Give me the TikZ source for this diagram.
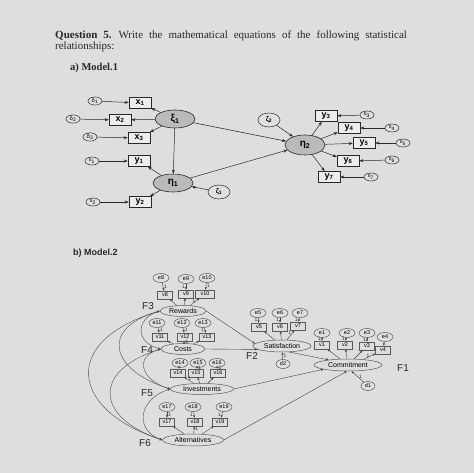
\documentclass[tikz,border=0pt]{standalone}
\usepackage{fontspec}
\setmainfont{Liberation Serif}
\setsansfont{Liberation Sans}
\usetikzlibrary{shapes.geometric, arrows.meta, positioning}

\definecolor{paper}{RGB}{222,222,222}
\definecolor{ink}{RGB}{40,40,40}

\tikzset{
  latA/.style = {ellipse, draw=ink, fill=black!27, line width=0.6pt, minimum width=40pt, minimum height=18pt, inner sep=0pt, font=\sffamily\bfseries},
  obsA/.style = {rectangle, draw=ink, fill=black!7, line width=0.6pt, minimum width=22pt, minimum height=11pt, inner sep=0pt, font=\sffamily\bfseries\small},
  errA/.style = {ellipse, draw=ink, fill=black!12, line width=0.5pt, minimum width=14pt, minimum height=8pt, inner sep=0pt, font=\sffamily\fontsize{6}{6}\selectfont},
  distA/.style = {errA, minimum width=22pt, minimum height=14pt, font=\sffamily\bfseries\scriptsize},
  arrA/.style = {-{Stealth[length=4pt,width=3pt]}, ink, line width=0.5pt},
  latB/.style = {ellipse, draw=black!65, line width=0.5pt, minimum height=11pt, inner sep=0pt, font=\sffamily\fontsize{7}{7}\selectfont},
  obsB/.style = {rectangle, draw=black!65, line width=0.5pt, minimum width=15pt, minimum height=8pt, inner sep=0.5pt, font=\sffamily\fontsize{5.5}{5.5}\selectfont},
  errB/.style = {ellipse, draw=black!65, line width=0.5pt, minimum width=16pt, minimum height=9pt, inner sep=0pt, font=\sffamily\fontsize{5.5}{5.5}\selectfont},
  arrB/.style = {-{Stealth[length=2.8pt,width=2.2pt]}, black!75, line width=0.4pt},
  covB/.style = {{Stealth[length=2.8pt,width=2.2pt]}-{Stealth[length=2.8pt,width=2.2pt]}, black!70, line width=0.4pt},
  one/.style = {font=\sffamily\fontsize{5}{5}\selectfont, inner sep=1pt, text=black!80},
  flab/.style = {font=\sffamily\fontsize{10}{10}\selectfont, text=ink}
}

\begin{document}
\begin{tikzpicture}[x=1pt, y=-1pt]

  \fill [paper] (0,0) rectangle (474,473);
  \useasboundingbox (0,0) rectangle (474,473);

  % heading
  \node (title) [anchor=base west, inner sep=0pt, text=ink, font=\fontsize{11}{13}\selectfont] at (55,39) {\spaceskip=6pt\textbf{Question 5.} Write the mathematical equations of the following statistical};
  \node (title2) [anchor=base west, inner sep=0pt, text=ink, font=\fontsize{11}{13}\selectfont] at (55,50) {relationships:};
  \node (moda) [anchor=base west, inner sep=0pt, text=ink, font=\bfseries\fontsize{10.5}{12}\selectfont] at (70,71) {a) Model.1};

  % Model.1
  \node (xi1) [latA] at (175,119) {ξ\textsubscript{1}};
  \node (eta1) [latA] at (173,183) {η\textsubscript{1}};
  \node (eta2) [latA, minimum height=20pt] at (305,145) {η\textsubscript{2}};

  \node (x1) [obsA] at (140,103) {x\textsubscript{1}};
  \node (x2) [obsA] at (120,120) {x\textsubscript{2}};
  \node (x3) [obsA] at (139,138) {x\textsubscript{3}};
  \node (y1) [obsA] at (139,161) {y\textsubscript{1}};
  \node (y2) [obsA] at (140,202) {y\textsubscript{2}};

  \node (del1) [errA] at (95,101) {δ\textsubscript{1}};
  \node (del2) [errA] at (73,119) {δ\textsubscript{2}};
  \node (del3) [errA] at (90,137) {δ\textsubscript{3}};
  \node (eps1) [errA] at (92,161) {ε\textsubscript{1}};
  \node (eps2) [errA] at (93,202) {ε\textsubscript{2}};

  \node (zeta1) [distA] at (219,192) {ζ\textsubscript{1}};
  \node (zeta2) [distA] at (269,120) {ζ\textsubscript{2}};

  \node (y3) [obsA] at (326,116) {y\textsubscript{3}};
  \node (y4) [obsA] at (349,128) {y\textsubscript{4}};
  \node (y5) [obsA] at (364,143) {y\textsubscript{5}};
  \node (y6) [obsA] at (348,161) {y\textsubscript{6}};
  \node (y7) [obsA] at (329,177) {y\textsubscript{7}};

  \node (eps3) [errA] at (367,115) {ε\textsubscript{3}};
  \node (eps4) [errA] at (392,128) {ε\textsubscript{4}};
  \node (eps5) [errA] at (403,143) {ε\textsubscript{5}};
  \node (eps6) [errA] at (392,160) {ε\textsubscript{6}};
  \node (eps7) [errA] at (371,177) {ε\textsubscript{7}};

  \draw [arrA] (del1) -- (x1);
  \draw [arrA] (del2) -- (x2);
  \draw [arrA] (del3) -- (x3);
  \draw [arrA] (eps1) -- (y1);
  \draw [arrA] (eps2) -- (y2);
  \draw [arrA] (xi1) -- (x1);
  \draw [arrA] (xi1) -- (x2);
  \draw [arrA] (xi1) -- (x3);
  \draw [arrA] (xi1) -- (eta1);
  \draw [arrA] (eta1) -- (y1);
  \draw [arrA] (eta1) -- (y2);
  \draw [arrA] (zeta1) -- (eta1);
  \draw [arrA] (xi1) -- (eta2);
  \draw [arrA] (eta1) -- (eta2);
  \draw [arrA] (zeta2) -- (eta2);
  \draw [arrA] (eta2) -- (y3);
  \draw [arrA] (eta2) -- (y4);
  \draw [arrA] (eta2) -- (y5);
  \draw [arrA] (eta2) -- (y6);
  \draw [arrA] (eta2) -- (y7);
  \draw [arrA] (eps3) -- (y3);
  \draw [arrA] (eps4) -- (y4);
  \draw [arrA] (eps5) -- (y5);
  \draw [arrA] (eps6) -- (y6);
  \draw [arrA] (eps7) -- (y7);

  % Model.2
  \node (modb) [anchor=base west, inner sep=0pt, text=ink, font=\sffamily\bfseries\fontsize{9}{10}\selectfont] at (73,256) {b) Model.2};

  \node (rew) [latB, minimum width=46pt] at (183,311) {Rewards};
  \node (cos) [latB, minimum width=44pt] at (183,349) {Costs};
  \node (sat) [latB, minimum width=58pt, minimum height=12pt] at (282,346) {Satisfaction};
  \node (com) [latB, minimum width=68pt, minimum height=12pt] at (348,365) {Commitment};
  \node (inv) [latB, minimum width=63pt] at (202,389) {Investments};
  \node (alt) [latB, minimum width=61pt, minimum height=12pt] at (193,440) {Alternatives};

  \node (f3) [flab] at (148,306) {F3};
  \node (f4) [flab] at (147,350) {F4};
  \node (f2) [flab] at (252,356) {F2};
  \node (f1) [flab] at (403,368) {F1};
  \node (f5) [flab] at (147,393) {F5};
  \node (f6) [flab] at (145,443) {F6};

  \node (v8) [obsB] at (165,295) {v8};
  \node (v9) [obsB] at (186,294) {v9};
  \node (v10) [obsB, minimum width=19pt] at (205,294) {v10};
  \node (e8) [errB] at (161,278) {e8};
  \node (e9) [errB] at (186,279) {e9};
  \node (e10) [errB] at (207,278) {e10};

  \node (v11) [obsB] at (160,337) {v11};
  \node (v12) [obsB] at (185,337) {v12};
  \node (v13) [obsB] at (207,337) {v13};
  \node (e11) [errB] at (157,323) {e11};
  \node (e12) [errB] at (182,323) {e12};
  \node (e13) [errB] at (203,323) {e13};

  \node (v5) [obsB] at (259,327) {v5};
  \node (v6) [obsB] at (280,327) {v6};
  \node (v7) [obsB] at (298,326) {v7};
  \node (e5) [errB] at (258,313) {e5};
  \node (e6) [errB] at (280,313) {e6};
  \node (e7) [errB] at (300,313) {e7};

  \node (v1) [obsB] at (322,345) {v1};
  \node (v2) [obsB] at (345,345) {v2};
  \node (v3) [obsB] at (367,346) {v3};
  \node (v4) [obsB] at (383,350) {v4};
  \node (e1) [errB] at (322,333) {e1};
  \node (e2) [errB] at (347,333) {e2};
  \node (e3) [errB] at (367,333) {e3};
  \node (e4) [errB] at (385,337) {e4};

  \node (v14) [obsB] at (178,373) {v14};
  \node (v15) [obsB] at (196,373) {v15};
  \node (v16) [obsB] at (218,373) {v16};
  \node (e14) [errB] at (180,363) {e14};
  \node (e15) [errB] at (198,363) {e15};
  \node (e16) [errB] at (217,363) {e16};

  \node (v17) [obsB] at (167,422) {v17};
  \node (v18) [obsB] at (195,422) {v18};
  \node (v19) [obsB] at (220,422) {v19};
  \node (e17) [errB] at (167,407) {e17};
  \node (e18) [errB] at (193,407) {e18};
  \node (e19) [errB] at (224,407) {e19};

  \node (d2) [errB, minimum width=14pt] at (283,364) {d2};
  \node (d1) [errB, minimum width=14pt] at (368,386) {d1};

  % error terms
  \draw [arrB] (e8) -- node[one, right] {1} (v8);
  \draw [arrB] (e9) -- node[one, left] {1} (v9);
  \draw [arrB] (e10) -- node[one, right] {1} (v10);
  \draw [arrB] (e11) -- node[one, right] {1} (v11);
  \draw [arrB] (e12) -- node[one, right] {1} (v12);
  \draw [arrB] (e13) -- node[one, left] {1} (v13);
  \draw [arrB] (e5) -- node[one, left] {1} (v5);
  \draw [arrB] (e6) -- node[one, left] {1} (v6);
  \draw [arrB] (e7) -- node[one, left] {1} (v7);
  \draw [arrB] (e1) -- node[one, left] {1} (v1);
  \draw [arrB] (e2) -- node[one, left] {1} (v2);
  \draw [arrB] (e3) -- node[one, left] {1} (v3);
  \draw [arrB] (e4) -- (v4);
  \draw [arrB] (e14) -- (v14);
  \draw [arrB] (e15) -- node[one, right] {1} (v15);
  \draw [arrB] (e16) -- node[one, right] {1} (v16);
  \draw [arrB] (e17) -- node[one, right] {1} (v17);
  \draw [arrB] (e18) -- node[one, left] {1} (v18);
  \draw [arrB] (e19) -- node[one, left] {1} (v19);
  \draw [arrB] (d2) -- node[one, right] {1} (sat);
  \draw [arrB] (d1) -- node[one, right] {1} (com.-60);

  % loadings
  \draw [arrB] (rew) -- (v8);
  \draw [arrB] (rew) -- (v9);
  \draw [arrB] (rew) -- node[one, left, pos=0.7] {1} (v10);
  \draw [arrB] (cos) -- (v11);
  \draw [arrB] (cos) -- node[one, right, pos=0.7] {1} (v12);
  \draw [arrB] (cos) -- (v13);
  \draw [arrB] (sat) -- (v5);
  \draw [arrB] (sat) -- (v6);
  \draw [arrB] (sat) -- node[one, left, pos=0.7] {1} (v7);
  \draw [arrB] (com) -- (v1);
  \draw [arrB] (com) -- (v2);
  \draw [arrB] (com) -- (v3);
  \draw [arrB] (com.20) -- node[one, left, pos=0.6] {1} (v4);
  \draw [arrB] (inv) -- node[one, right, pos=0.7] {1} (v14);
  \draw [arrB] (inv) -- (v15);
  \draw [arrB] (inv) -- (v16);
  \draw [arrB] (alt) -- (v17);
  \draw [arrB] (alt) -- node[one, right, pos=0.7] {1} (v18);
  \draw [arrB] (alt) -- (v19);

  % structural paths
  \draw [arrB] (rew.east) -- (sat.175);
  \draw [arrB] (cos.east) -- (sat.188);
  \draw [arrB] (sat.-40) -- (com.165);
  \draw [arrB] (inv.east) -- (com.190);
  \draw [arrB] (alt.east) -- (com.-100);

  % covariances
  \draw [covB] (rew.west) .. controls +(-25,8) and +(-25,-6) .. (cos.west);
  \draw [covB] (cos.west) .. controls +(-28,8) and +(-28,-8) .. (inv.west);
  \draw [covB] (inv.west) .. controls +(-32,10) and +(-28,-10) .. (alt.west);
  \draw [covB] (rew.west) .. controls +(-62,18) and +(-58,-18) .. (inv.west);
  \draw [covB] (cos.west) .. controls +(-70,22) and +(-66,-22) .. (alt.west);
  \draw [covB] (rew.west) .. controls +(-100,30) and +(-92,-30) .. (alt.west);

\end{tikzpicture}
\end{document}
